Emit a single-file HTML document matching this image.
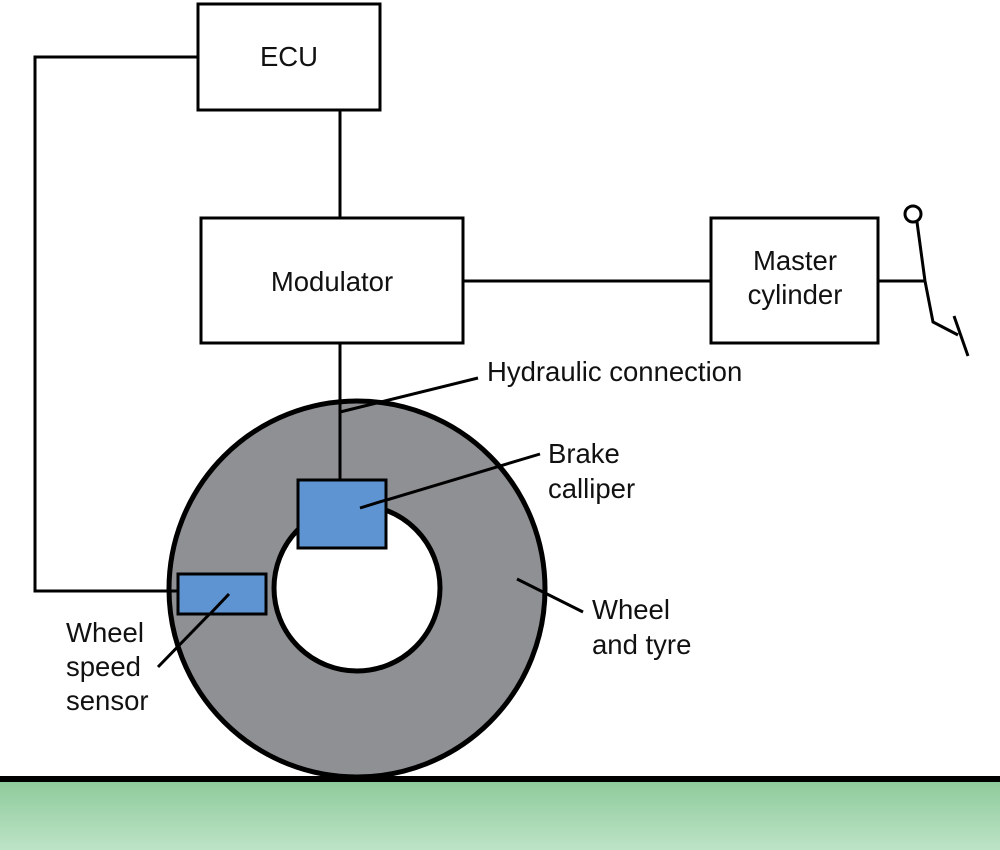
<!DOCTYPE html>
<html><head><style>
html,body{margin:0;padding:0;background:#fff;}
svg{display:block;}
text{font-family:"Liberation Sans",Arial,sans-serif;font-size:27.5px;fill:#111;}
</style></head><body>
<svg width="1000" height="850" viewBox="0 0 1000 850" xmlns="http://www.w3.org/2000/svg">
<defs>
<linearGradient id="g" x1="0" y1="0" x2="0" y2="1">
<stop offset="0" stop-color="#8fcb9c"/><stop offset="1" stop-color="#bde3c6"/>
</linearGradient>
</defs>
<rect x="0" y="782" width="1000" height="68" fill="url(#g)"/>
<line x1="0" y1="779" x2="1000" y2="779" stroke="#000" stroke-width="6"/>
<circle cx="357" cy="589" r="188" fill="#8e9093" stroke="#000" stroke-width="5"/>
<circle cx="357" cy="588" r="83" fill="#fff" stroke="#000" stroke-width="5"/>
<g stroke="#000" stroke-width="3" fill="none">
<rect x="198" y="4" width="182" height="106" fill="#fff"/>
<rect x="201" y="218" width="262" height="125" fill="#fff"/>
<rect x="711" y="218" width="167" height="125" fill="#fff"/>
<line x1="340" y1="110" x2="340" y2="218"/>
<polyline points="198,57 35,57 35,591 178,591"/>
<line x1="340" y1="343" x2="340" y2="480"/>
<line x1="463" y1="281" x2="711" y2="281"/>
<line x1="878" y1="281" x2="924" y2="281"/>
<circle cx="913" cy="214" r="8"/>
<polyline points="917,222 925,281 933,322 958,335"/>
<line x1="954" y1="316" x2="968" y2="356"/>
<line x1="340" y1="412" x2="478" y2="378"/>
<line x1="360" y1="508" x2="540" y2="454"/>
<line x1="517" y1="579" x2="583" y2="612"/>
<line x1="229" y1="594" x2="158" y2="667"/>
</g>
<rect x="298" y="480" width="88" height="68" fill="#5f94d3" stroke="#000" stroke-width="3"/>
<rect x="178" y="574" width="88" height="40" fill="#5f94d3" stroke="#000" stroke-width="3"/>
<line x1="360" y1="508" x2="386" y2="500" stroke="#000" stroke-width="3"/>
<line x1="229" y1="594" x2="210" y2="614" stroke="#000" stroke-width="3"/>
<text x="289" y="66" text-anchor="middle">ECU</text>
<text x="332" y="291" text-anchor="middle">Modulator</text>
<text x="795" y="270" text-anchor="middle">Master</text>
<text x="795" y="304" text-anchor="middle">cylinder</text>
<text x="487" y="381">Hydraulic connection</text>
<text x="548" y="463">Brake</text>
<text x="548" y="498">calliper</text>
<text x="592" y="619">Wheel</text>
<text x="592" y="654">and tyre</text>
<text x="66" y="642">Wheel</text>
<text x="66" y="676">speed</text>
<text x="66" y="710">sensor</text>
</svg>
</body></html>
